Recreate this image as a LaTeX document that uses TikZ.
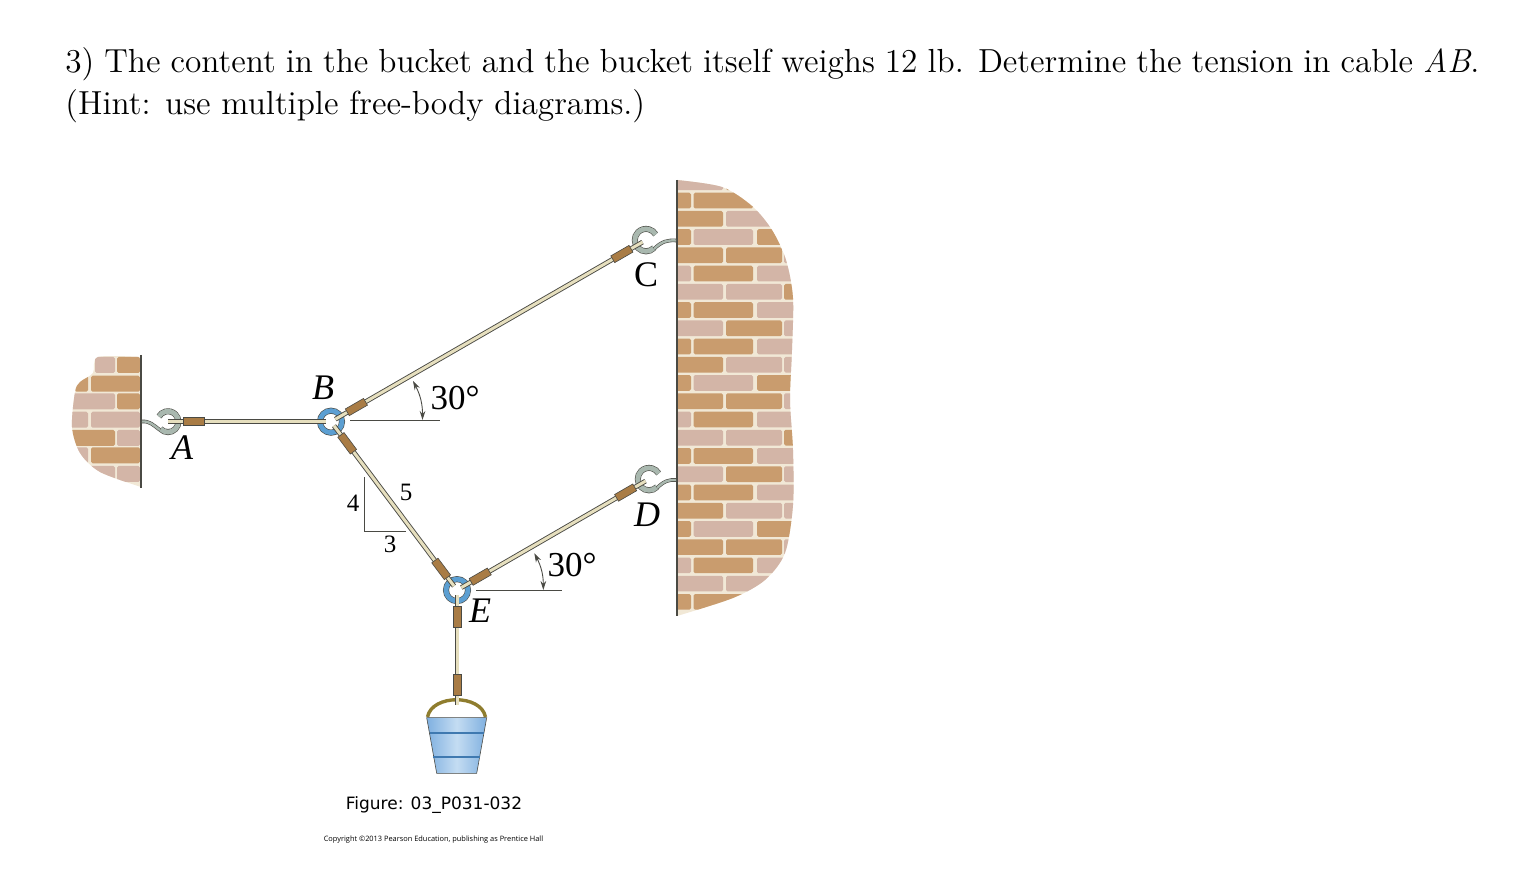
\documentclass[tikz,border=0pt]{standalone}
\usepackage{fontspec}
\usetikzlibrary{positioning,arrows.meta}
\newfontfamily\figserif{Liberation Serif}
\newfontfamily\figsans{DejaVu Sans}
\newfontfamily\figsmall{Open Sans}
\newfontfamily\probfont[Extension=.otf,ItalicFont=lmroman12-italic]{lmroman12-regular}
\definecolor{brickT}{HTML}{C99C6E}
\definecolor{brickP}{HTML}{D3B5A7}
\definecolor{mortar}{HTML}{F1E8D6}
\definecolor{edgedark}{HTML}{4A4A44}
\definecolor{ropetan}{HTML}{E6DFBE}
\definecolor{ferbrown}{HTML}{A97C45}
\definecolor{hookgray}{HTML}{A9B8AF}
\definecolor{ringblue}{HTML}{5C9FD2}
\definecolor{pailblue}{HTML}{7FB0E0}
\definecolor{paillight}{HTML}{C4DCF2}
\definecolor{pailband}{HTML}{3F79B0}
\definecolor{pailhandle}{HTML}{8F7D2E}
\tikzset{
  cable/.style={draw=edgedark,double=ropetan,line width=.45pt,double distance=1.5pt},
  ferrule/.style={sloped,rectangle,draw=edgedark,line width=.3pt,fill=ferbrown,inner sep=0pt,minimum width=10.5pt,minimum height=3.9pt},
  eyering/.style={circle,draw=edgedark,double=ringblue,line width=.3pt,double distance=2.4pt,fill=white,inner sep=0pt,outer sep=0pt,minimum size=11pt},
  hookeye/.style={circle,inner sep=0pt,outer sep=0pt,minimum size=0pt},
  hookline/.style={draw=edgedark,double=hookgray,line width=.3pt,double distance=#1},
  dimline/.style={draw=edgedark,line width=.45pt},
  dimarrow/.style={dimline,{Stealth[length=4.5pt,width=2.8pt]}-{Stealth[length=4.5pt,width=2.8pt]}},
  figlab/.style={font=\figserif\fontsize{18}{18}\selectfont\itshape,inner sep=0pt},
  anglab/.style={font=\figserif\fontsize{17.5}{18}\selectfont,inner sep=0pt},
  numlab/.style={font=\figserif\fontsize{12.5}{13}\selectfont,inner sep=0pt},
  problem/.style={anchor=base west,inner sep=0pt,font=\probfont\fontsize{16.67}{20}\selectfont}
}
\begin{document}
\begin{tikzpicture}[x=.5pt,y=-.5pt,on grid]
  \useasboundingbox (0,0) rectangle (1532,892);
  \node[problem] (line1) at (65,73) {\hbox to 707pt{3) The content in the bucket and the bucket itself weighs 12 lb. Determine the tension in cable \textit{AB}.}};
  \node[problem] (line2) at (65,114.5) {(Hint: use multiple free-body diagrams.)};
  \begin{scope}
    \fill[mortar,save path=\wallL] plot[smooth] coordinates {(141,357) (98,357) (93,373) (80,382) (75,392) (72,427) (80,453) (100,472) (141,487)} -- cycle;
    \clip[use path=\wallL];
    \foreach \xa/\xb/\yt/\col in {95/115/357/brickP,117/140/357/brickT,
      75/88/375.7/brickT,91/140/375.7/brickT,
      60/115/393.3/brickP,117/140/393.3/brickT,
      60/88/411.7/brickP,91/140/411.7/brickP,
      60/115/430/brickT,117/140/430/brickP,
      60/88/447.3/brickP,91/140/447.3/brickT,
      60/115/466/brickP,117/140/466/brickP}
      \fill[\col,rounded corners=.8pt] (\xa,\yt) rectangle (\xb,\yt+16);
  \end{scope}
  \begin{scope}
    \fill[mortar,save path=\wallR] plot[smooth] coordinates {(677,180) (722,187) (752,206) (772,230) (786,260) (793,298) (792,350) (790,400) (793,450) (793,505) (785,553) (765,580) (733,598) (677,616)} -- cycle;
    \clip[use path=\wallR];
    \foreach \n/\ca/\cb/\cc in {0/P/T/T,1/T/T/P,2/T/P/P,3/T/P/T,4/T/T/P,5/P/T/P,6/P/P/T,7/T/T/P,8/P/T/P,9/T/T/P,10/T/P/P,11/T/P/T,12/T/T/P,13/P/T/P,14/P/P/T,15/T/T/P,16/P/T/P,17/T/T/P,18/T/P/P,19/T/P/T,20/T/T/P,21/P/T/P,22/P/P/T,23/T/T/P} {
      \pgfmathsetmacro{\yt}{174.5+18.24*\n}
      \pgfmathsetmacro{\yb}{\yt+15.7}
      \ifodd\n
        \fill[brick\ca,rounded corners=.8pt] (670,\yt) rectangle (691,\yb);
        \fill[brick\cb,rounded corners=.8pt] (693.5,\yt) rectangle (753,\yb);
        \fill[brick\cc,rounded corners=.8pt] (757,\yt) rectangle (810,\yb);
      \else
        \fill[brick\ca,rounded corners=.8pt] (670,\yt) rectangle (723,\yb);
        \fill[brick\cb,rounded corners=.8pt] (726,\yt) rectangle (782,\yb);
        \fill[brick\cc,rounded corners=.8pt] (784,\yt) rectangle (810,\yb);
      \fi
    }
  \end{scope}
  \coordinate (wallLa) at (141,355);
  \coordinate (wallLb) at (141,488);
  \coordinate (wallRa) at (677,180);
  \coordinate (wallRb) at (677,616);
  \draw[edgedark,line width=1.1pt] (wallLa) -- (wallLb);
  \draw[edgedark,line width=1.1pt] (wallRa) -- (wallRb);
  \node[hookeye] (A) at (168,421.7) {};
  \node[eyering] (B) [right=81.5pt of A] {};
  \node[eyering] (E) [below right=84.2pt and 63pt of B] {};
  \node[hookeye] (C) [above right=90.8pt and 157.5pt of B] {};
  \node[hookeye] (D) [above right=55.5pt and 96pt of E] {};
  \node[hookeye] (H) [below=57.5pt of E] {};
  \draw[hookline=2.4pt] (A) ++(-135:5.2pt) arc[start angle=-135,end angle=150,radius=5.2pt];
  \draw[hookline=1.2pt] (142,421.5) .. controls (150,421) and (153,425) .. (160,430);
  \draw[hookline=2.4pt] (C) ++(-45:5.6pt) arc[start angle=-45,end angle=-330,radius=5.6pt];
  \draw[hookline=1.2pt] (676,240.5) .. controls (668,240) and (662,241) .. (654,249);
  \draw[hookline=2.4pt] (D) ++(-45:5.6pt) arc[start angle=-45,end angle=-330,radius=5.6pt];
  \draw[hookline=1.2pt] (676,480) .. controls (669,479.5) and (664,481) .. (657,488);
  \draw[pailhandle,line width=1.7pt] (427.5,717) .. controls (432,694) and (481,694) .. (485.5,717);
  \shade[left color=pailblue,right color=pailblue,middle color=paillight] (426.7,717.7) -- (486.7,717.7) -- (476.7,773.3) -- (436.7,773.3) -- cycle;
  \draw[edgedark,line width=.3pt] (426.7,717.7) -- (486.7,717.7) -- (476.7,773.3) -- (436.7,773.3) -- cycle;
  \draw[pailband,line width=1.1pt] (429.5,733.3) -- (484,733.3);
  \draw[pailband,line width=1.1pt] (433,756.7) -- (480,756.7);
  \draw[cable,shorten >=-3pt] (A) -- node[ferrule,pos=.168] (ferAB) {} (B);
  \draw[cable,shorten <=-3pt,shorten >=2pt] (B) -- node[ferrule,pos=.052] (ferBa) {} node[ferrule,pos=.921] (ferBb) {} (C);
  \draw[cable,shorten <=-3pt,shorten >=-3pt] (B) -- node[ferrule,pos=.085] (ferEa) {} node[ferrule,pos=.918] (ferEb) {} (E);
  \draw[cable,shorten <=-3pt,shorten >=2pt] (E) -- node[ferrule,pos=.075] (ferDa) {} node[ferrule,pos=.872] (ferDb) {} (D);
  \draw[cable,shorten <=-3pt] (E) -- node[ferrule,pos=.151] (ferHa) {} node[ferrule,pos=.808] (ferHb) {} (H);
  \coordinate (refBa) at (350,420.5);
  \coordinate (refBb) at (440,420.5);
  \coordinate (arcBa) at (413,381);
  \coordinate (arcBb) at (422.5,420);
  \coordinate (refEa) at (476,590.7);
  \coordinate (refEb) at (561.7,590.7);
  \coordinate (arcEa) at (534.3,553.3);
  \coordinate (arcEb) at (543.3,590);
  \coordinate (slopeA) at (364.7,477.3);
  \coordinate (slopeB) at (364.7,531.5);
  \coordinate (slopeC) at (405.7,531.5);
  \draw[dimline] (refBa) -- (refBb);
  \draw[dimline] (refEa) -- (refEb);
  \draw[dimarrow] (arcBa) to[bend left=14] (arcBb);
  \draw[dimarrow] (arcEa) to[bend left=14] (arcEb);
  \draw[dimline] (slopeA) -- (slopeB) -- (slopeC);
  \node[figlab] (labA) [below right=13.2pt and 7pt of A] {A};
  \node[figlab] (labB) [above left=16.8pt and 4pt of B] {B};
  \node[figlab] (labC) [below=17.5pt of C] {\upshape C};
  \node[figlab] (labD) [below left=18pt and 1pt of D] {D};
  \node[figlab] (labE) [below right=10.5pt and 11.5pt of E] {E};
  \node[anglab] (angB) [above right=12pt and 62pt of B] {30°};
  \node[anglab] (angE) [above right=12.5pt and 57.5pt of E] {30°};
  \node[numlab] (numF) at (353,503) {4};
  \node[numlab] (numT) at (390,544) {3};
  \node[numlab] (numV) at (406,492) {5};
  \node[font=\figsans\fontsize{8.5}{10}\selectfont,inner sep=0pt] (figname) at (434,805) {Figure: 03\_P031-032};
  \node[font=\figsmall\fontsize{3.7}{5}\selectfont,inner sep=0pt] (figcopy) at (433.5,840) {Copyright ©2013 Pearson Education, publishing as Prentice Hall};
\end{tikzpicture}
\end{document}
